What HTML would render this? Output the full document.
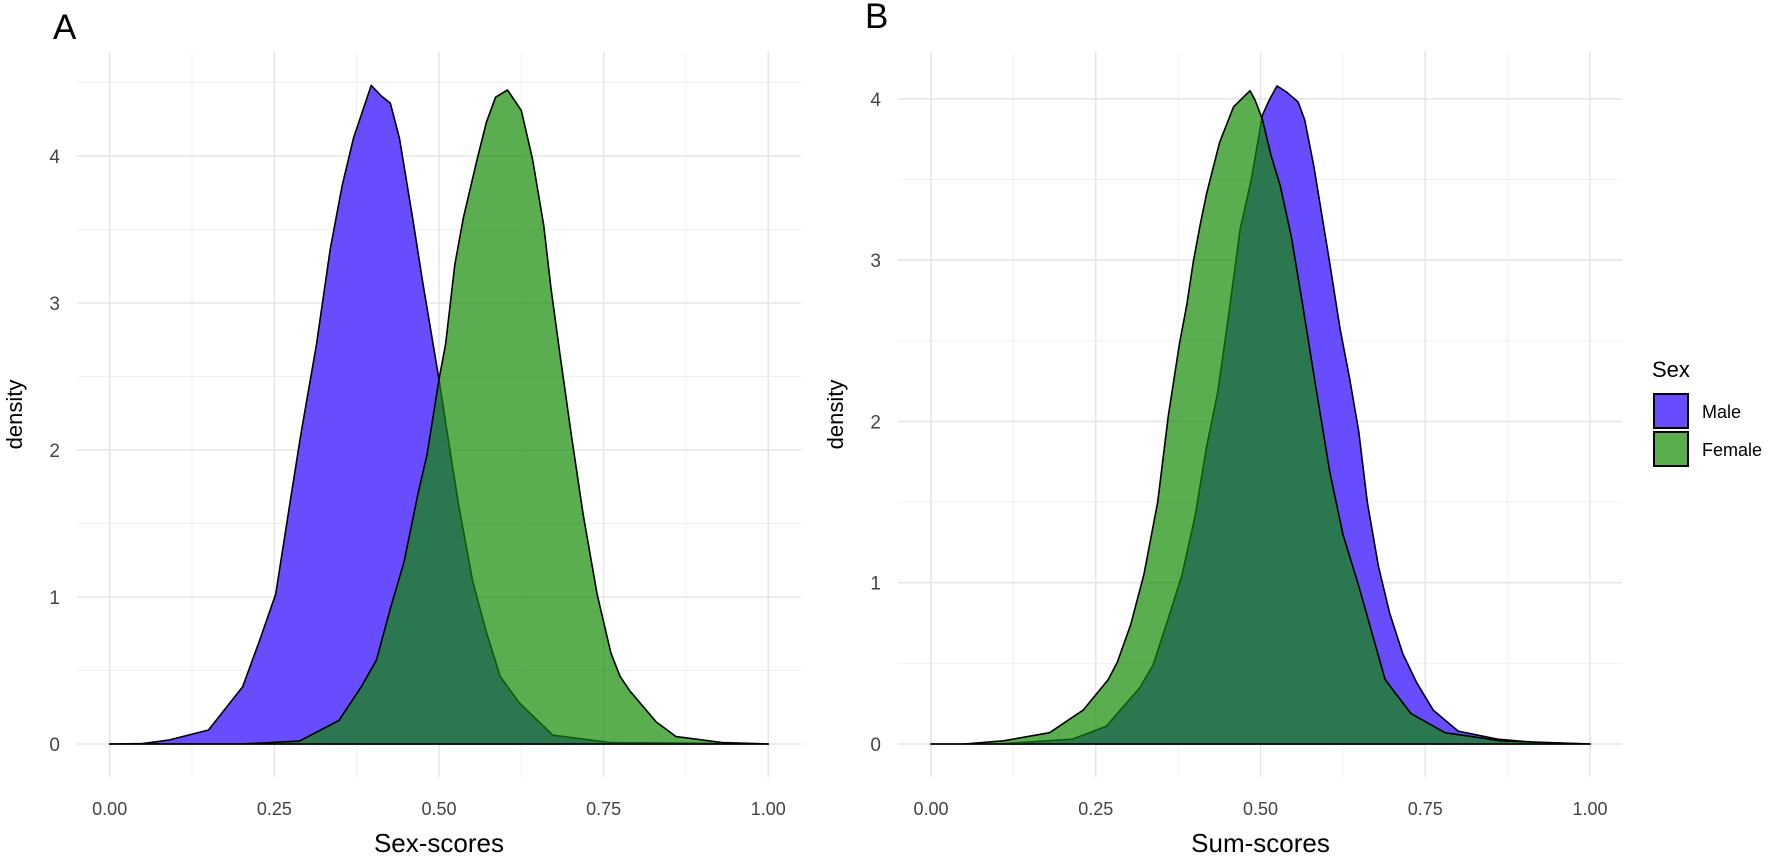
<!DOCTYPE html>
<html><head><meta charset="utf-8"><style>
html,body{margin:0;padding:0;background:#fff;}
svg{display:block;font-family:"Liberation Sans",sans-serif;}
</style></head><body>
<svg id="chart" width="1769" height="864" viewBox="0 0 1769 864">
<g id="gA"></g>
<g id="gB"></g>
<text x="53" y="39" font-size="35" fill="#000">A</text>
<text x="865" y="28" font-size="35" fill="#000">B</text>
<g>
<text x="1652" y="377" font-size="22" fill="#000">Sex</text>
<rect x="1654" y="394" width="34" height="34" fill="#684dfe" stroke="#000" stroke-width="2"/>
<rect x="1654" y="432" width="34" height="34" fill="#5aae4d" stroke="#000" stroke-width="2"/>
<text x="1702" y="418" font-size="18" fill="#000">Male</text>
<text x="1702" y="456" font-size="18" fill="#000">Female</text>
</g>
</svg>
<script>
const xTicks = [0, 0.25, 0.5, 0.75, 1];
const xTickLabels = ["0.00", "0.25", "0.50", "0.75", "1.00"];
const yTicksA = [0, 1, 2, 3, 4];
const yTicksB = [0, 1, 2, 3, 4];
const maleAx = [0,0.05,0.09,0.15,0.202,0.228,0.252,0.273,0.29,0.314,0.335,0.353,0.37,0.397,0.412,0.426,0.44,0.461,0.475,0.5,0.513,0.53,0.551,0.572,0.593,0.622,0.673,0.76,1];
const maleAy = [0,0.003,0.027,0.095,0.39,0.71,1.02,1.62,2.10,2.72,3.37,3.80,4.12,4.48,4.41,4.36,4.12,3.55,3.15,2.48,2.10,1.62,1.11,0.76,0.46,0.28,0.06,0.01,0];
const femaleAx = [0,0.2,0.288,0.348,0.382,0.405,0.426,0.447,0.468,0.482,0.5,0.51,0.524,0.537,0.558,0.572,0.586,0.604,0.625,0.642,0.659,0.67,0.684,0.701,0.719,0.74,0.761,0.775,0.79,0.83,0.86,0.93,1];
const femaleAy = [0,0,0.02,0.16,0.39,0.57,0.92,1.24,1.70,1.97,2.48,2.72,3.26,3.58,3.98,4.23,4.40,4.45,4.31,3.98,3.53,3.10,2.64,2.10,1.56,1.02,0.62,0.46,0.36,0.15,0.05,0.01,0];
const maleBx = [0,0.1,0.214,0.266,0.317,0.337,0.357,0.381,0.401,0.418,0.435,0.452,0.469,0.486,0.503,0.513,0.525,0.54,0.557,0.567,0.581,0.594,0.604,0.621,0.635,0.649,0.662,0.679,0.696,0.716,0.737,0.762,0.80,0.86,0.917,1];
const maleBy = [0,0,0.03,0.11,0.35,0.49,0.74,1.05,1.42,1.84,2.18,2.67,3.19,3.50,3.90,3.99,4.08,4.04,3.98,3.87,3.58,3.26,3.01,2.57,2.27,1.94,1.50,1.10,0.81,0.56,0.38,0.21,0.08,0.03,0.01,0];
const femaleBx = [0,0.05,0.11,0.18,0.231,0.269,0.283,0.303,0.323,0.344,0.36,0.377,0.388,0.398,0.408,0.418,0.438,0.459,0.484,0.492,0.503,0.516,0.53,0.547,0.564,0.584,0.605,0.625,0.649,0.669,0.689,0.728,0.78,0.865,1];
const femaleBy = [0,0,0.02,0.07,0.21,0.40,0.51,0.74,1.05,1.50,2.03,2.48,2.72,2.99,3.21,3.41,3.73,3.95,4.05,3.99,3.87,3.65,3.46,3.14,2.72,2.21,1.69,1.30,0.98,0.69,0.40,0.19,0.07,0.02,0];

const NS = "http://www.w3.org/2000/svg";
function mk(tag, attrs, parent){const e=document.createElementNS(NS,tag);for(const k in attrs)e.setAttribute(k,attrs[k]);parent.appendChild(e);return e;}

function drawPanel(g, cfg){
  const sx = v => cfg.x0 + v*(cfg.x1-cfg.x0);
  const sy = v => cfg.y0 - v*cfg.yUnit;
  for(let i=0;i<4;i++){
    const v=(xTicks[i]+xTicks[i+1])/2;
    const l=mk("line",{x1:sx(v),x2:sx(v),y1:cfg.top,y2:cfg.bottom,stroke:"#f0f0f0","stroke-width":1},g);
    
    
  }
  for(let i=0;i<cfg.yTicks.length;i++){
    const v=cfg.yTicks[i]+0.5;
    if(sy(v)<cfg.top) continue;
    const l=mk("line",{x1:cfg.left,x2:cfg.right,y1:sy(v),y2:sy(v),stroke:"#f0f0f0","stroke-width":1},g);
    
    
  }
  xTicks.forEach((v,i)=>{
    const l=mk("line",{x1:sx(v),x2:sx(v),y1:cfg.top,y2:cfg.bottom,stroke:"#e6e6e6","stroke-width":1.6},g);
    
    
    const t=mk("text",{x:sx(v),y:815,"font-size":18,fill:"#444","text-anchor":"middle"},g);
    t.textContent=xTickLabels[i];
    
    
  });
  cfg.yTicks.forEach(v=>{
    const l=mk("line",{x1:cfg.left,x2:cfg.right,y1:sy(v),y2:sy(v),stroke:"#e6e6e6","stroke-width":1.6},g);
    
    
    const t=mk("text",{x:cfg.left-17,y:sy(v)+7,"font-size":19,fill:"#444","text-anchor":"end"},g);
    t.textContent=String(v);
    
    
  });
  function path(xs,ys){let d="";xs.forEach((x,i)=>{d+=(i?"L":"M")+sx(x).toFixed(1)+","+sy(ys[i]).toFixed(1);});return d+"Z";}
  const m=mk("path",{d:path(cfg.mx,cfg.my),fill:"#684dfe",stroke:"#000","stroke-width":1.6,"stroke-linejoin":"round"},g);
  
  
  const f=mk("path",{d:path(cfg.fx,cfg.fy),fill:"rgb(16,137,0)","fill-opacity":0.69,stroke:"#000","stroke-width":1.6,"stroke-linejoin":"round"},g);
  
  
  const xt=mk("text",{x:(cfg.x0+cfg.x1)/2,y:852,"font-size":26,fill:"#000","text-anchor":"middle"},g);
  xt.textContent=cfg.xTitle;
  
  
  const cy=(cfg.top+cfg.bottom)/2;
  const yt=mk("text",{x:cfg.left-55,y:cy,"font-size":22,fill:"#000","text-anchor":"middle",transform:"rotate(-90 "+(cfg.left-55)+" "+cy+")"},g);
  yt.textContent="density";
  
  
}
drawPanel(document.getElementById("gA"),{x0:109.7,x1:768.3,y0:744,yUnit:147,left:77,right:801,top:52,bottom:777,yTicks:yTicksA,mx:maleAx,my:maleAy,fx:femaleAx,fy:femaleAy,xTitle:"Sex-scores"});
drawPanel(document.getElementById("gB"),{x0:931,x1:1590,y0:744,yUnit:161.3,left:898,right:1622,top:52,bottom:777,yTicks:yTicksB,mx:maleBx,my:maleBy,fx:femaleBx,fy:femaleBy,xTitle:"Sum-scores"});
</script>
</body></html>
